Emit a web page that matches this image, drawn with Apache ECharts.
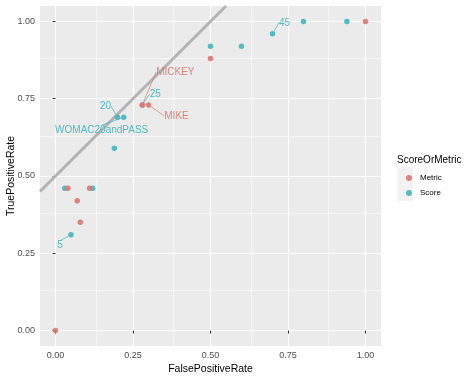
<!DOCTYPE html>
<html>
<head>
<meta charset="utf-8">
<script src="https://cdn.jsdelivr.net/npm/echarts@6/dist/echarts.min.js"></script>
<style>html,body{margin:0;padding:0;background:#fff}#c{width:474px;height:379px}</style>
</head>
<body>
<div id="c"></div>
<script>
// ---- data ----
var scoreFPR   = [0.28, 0.03, 0.12, 0.05, 0.19, 0.20, 0.22, 0.50, 0.60, 0.70, 0.80, 0.94];
var scoreTPR   = [0.73, 0.46, 0.46, 0.31, 0.59, 0.69, 0.69, 0.92, 0.92, 0.96, 1.00, 1.00];
var scoreLabel = ['25', '', '', '5', '', '20', 'WOMAC20andPASS', '', '', '45', '', ''];

var metricFPR   = [0.00, 0.04, 0.11, 0.07, 0.08, 0.28, 0.30, 0.50, 1.00];
var metricTPR   = [0.00, 0.46, 0.46, 0.42, 0.35, 0.73, 0.73, 0.88, 1.00];
var metricLabel = ['', '', '', '', '', 'MICKEY', 'MIKE', '', ''];

var tickValues  = [0, 0.25, 0.5, 0.75, 1];
var minorValues = [0.125, 0.375, 0.625, 0.875];
var ablineIntercept = 0.5;
var ablineSlope = 1;
var axisMin = -0.05, axisMax = 1.05;

// ---- label placement (pixel offsets, repel-like) ----
var labelOffsets = {
  'MICKEY': [33, -33],
  'MIKE': [28, 11],
  '25': [13, -11],
  '20': [-12, -11],
  'WOMAC20andPASS': [-22, 13],
  '5': [-11, 11],
  '45': [12, -11]
};

var metricColor = '#de766f';
var scoreColor = '#3fb6bb';

function pts(xs, ys, ls) {
  return xs.map(function (x, i) { return { value: [x, ys[i]], name: ls[i] }; });
}

var abX0 = axisMin, abX1 = (axisMax - ablineIntercept) / ablineSlope;
var ablineData = [[abX0, ablineIntercept + ablineSlope * abX0], [abX1, ablineIntercept + ablineSlope * abX1]];

var gridLines = [];
tickValues.forEach(function (v) {
  gridLines.push({ xAxis: v, lineStyle: { width: 1.1 } });
  gridLines.push({ yAxis: v, lineStyle: { width: 1.1 } });
});
minorValues.forEach(function (v) {
  gridLines.push({ xAxis: v, lineStyle: { width: 0.55 } });
  gridLines.push({ yAxis: v, lineStyle: { width: 0.55 } });
});

function labelLayoutFn(series) {
  return function (params) {
    var name = series[params.dataIndex];
    var o = labelOffsets[name];
    if (!o) return {};
    return { dx: o[0], dy: o[1] };
  };
}

var chart = echarts.init(document.getElementById('c'), null, { renderer: 'canvas' });
var fontFam = 'Liberation Sans, Arial, sans-serif';

var axisCommon = {
  type: 'value', min: axisMin, max: axisMax,
  splitLine: { show: false },
  axisLine: { show: false },
  axisTick: { show: true, customValues: tickValues, length: 3, lineStyle: { color: '#333333', width: 1 } },
  axisLabel: { customValues: tickValues, color: '#4d4d4d', fontSize: 9, fontFamily: fontFam, margin: 5,
    formatter: function (v) { return v.toFixed(2); } },
  nameLocation: 'middle',
  nameMoveOverlap: false,
  nameTextStyle: { color: '#000', fontSize: 10.5, fontFamily: fontFam }
};

var option = {
  animation: false,
  backgroundColor: '#ffffff',
  grid: { left: 40, right: 93, top: 6, bottom: 33, show: true, backgroundColor: '#ebebeb', borderWidth: 0,
    containLabel: false, outerBoundsMode: 'none' },
  xAxis: Object.assign({}, axisCommon, { name: 'FalsePositiveRate', nameGap: 18 }),
  yAxis: Object.assign({}, axisCommon, { name: 'TruePositiveRate', nameGap: 23 }),
  legend: {
    data: ['Metric', 'Score'],
    orient: 'vertical', left: 401, top: 169,
    icon: 'circle', itemWidth: 6, itemHeight: 6, itemGap: 7,
    textStyle: { color: '#000', fontSize: 8, fontFamily: fontFam, padding: [0, 0, 0, 3] }
  },
  graphic: [
    { type: 'rect', left: 397, top: 167, shape: { width: 16, height: 34 }, style: { fill: '#f2f2f2' }, z: -1 },
    { type: 'text', left: 397, top: 155, style: { text: 'ScoreOrMetric', fill: '#000', font: '10px ' + fontFam } }
  ],
  series: [
    {
      name: 'grid', type: 'line', data: [], silent: true, z: 0,
      markLine: { silent: true, z: 0, symbol: 'none', label: { show: false }, lineStyle: { color: '#ffffff', type: 'solid' }, data: gridLines, animation: false }
    },
    {
      name: 'abline', type: 'line', data: ablineData, symbol: 'none', silent: true, z: 1,
      lineStyle: { color: '#b3b3b3', width: 3 }, clip: true
    },
    {
      name: 'Score', type: 'scatter', data: pts(scoreFPR, scoreTPR, scoreLabel), z: 2,
      symbolSize: 5.5, itemStyle: { color: scoreColor, opacity: 0.9 },
      label: { show: true, position: 'inside', color: scoreColor, fontSize: 10, fontFamily: fontFam,
        formatter: function (p) { return p.name; } },
      labelLine: { show: true, lineStyle: { color: scoreColor, width: 0.7 } },
      labelLayout: labelLayoutFn(scoreLabel)
    },
    {
      name: 'Metric', type: 'scatter', data: pts(metricFPR, metricTPR, metricLabel), z: 3,
      symbolSize: 5.5, itemStyle: { color: metricColor, opacity: 0.9 },
      label: { show: true, position: 'inside', color: metricColor, fontSize: 10, fontFamily: fontFam,
        formatter: function (p) { return p.name; } },
      labelLine: { show: true, lineStyle: { color: metricColor, width: 0.7 } },
      labelLayout: labelLayoutFn(metricLabel)
    }
  ]
};
chart.setOption(option);
</script>
</body>
</html>
